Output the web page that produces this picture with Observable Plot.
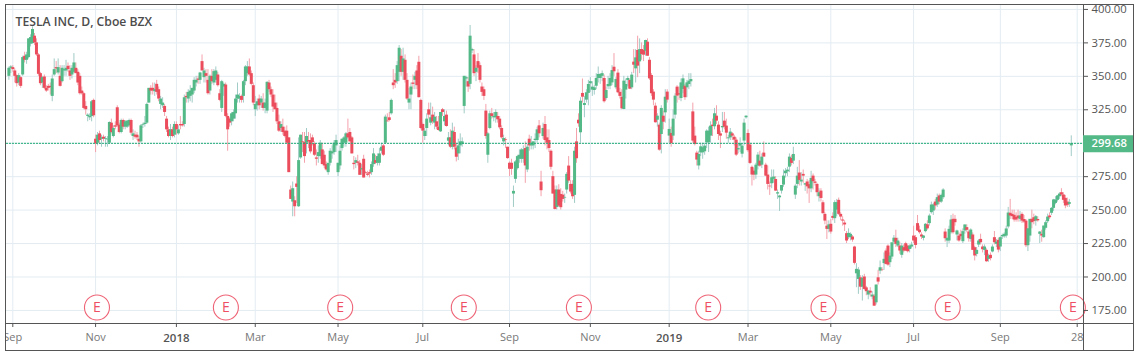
<!DOCTYPE html>
<html><head><meta charset="utf-8">
<style>
html,body{margin:0;padding:0;background:#fff;}
#box{position:absolute;left:6px;top:5px;width:1127px;height:345px;outline:1.4px solid #555;}
#box svg{overflow:hidden;display:block;}
</style>
<script src="https://cdn.jsdelivr.net/npm/d3@7"></script>
<script src="https://cdn.jsdelivr.net/npm/@observablehq/plot@0.6"></script>
</head><body><div id="box"></div>
<script>
// Each row: open, high, low, close. Start index is trading-day position.
const start2017a = 0;
const sep2017 = [[350,357,347,356],[356,358,352,357],[356.5,358,353,355],[354,355.5,345,350],[350.5,351,342,344.5],[345,352,343,350.5],[349,350,341,342.5],[351,365,350,364],[365,368,360,362],[362,368,359,366],[364,378,363,378],[374,381,372,379],[374.5,387,374,385],[380,382,373,375],[375,378,365,366],[366,367,350,351.5],[352,353,343,344.5],[345,350,341,349],[349.5,351,340,341],[341,343,338,339],[342.5,344,339,341],[342.5,345,336,341.5],[335,351,331,348],[351,363,350,355],[356.5,361,352,355.5],[352.5,363,351,356.5],[350,358,342,342.5],[346,358,345,356],[354,358,350,355],[354,362,350,356],[357.5,360,353,355],[354,358,347,350],[351,358,348,356],[353,367,352,360],[356,360,352,352],[353,355,343,345],[350,352,336,337],[339,342,336,337],[337,338,325,326],[327.5,331,321,325],[320,322,316,321],[319,322,317,320],[320,332,316,331],[332,333,319,320.5]];
const start2017b = 44;
const nov2017 = [[303,306,293,299.5],[300,308,298,306],[307,309,299,302],[303,306,297,304],[304.5,306,301,303],[303,305,297,303.5],[302.5,305,297,303],[300,316,299,315.5],[315,318,307,308],[305,313,304,311],[313,316,310,312],[326.5,328,312,313],[313.5,315,307,308],[308,318,307,317],[317,318,310,312],[312,317,310,316],[312,317,311,316.5],[313,318,312,317],[317,318,306,307.5],[305,310,302,307],[306,309,303,304.5],[306,308,302,304],[303,305,297,301],[301,314,300,313],[313.5,315,311,314],[314,320,312,315],[315,330,314,329],[330,341,330,341],[341,343,336,339],[341,345,336,339],[338.5,345,335,340],[344,347,336,338],[340,342,331,333],[329,335,325,333],[328,334,326,330],[327.5,329,320,323],[318,320,308,310],[310,312,304,305],[305,314,302,310],[310,312,304,305],[306,316,304,314],[314,316,306,310],[307,313,306,310],[314,320,310,313],[314,316,312,313]];
const start2018a = 89;
const jan2018 = [[314,336,312,334],[335,338,330,334],[333,340,330,338],[335,343,331,339],[336,341,330,341],[339,349,337,347],[345,350,342,347],[348,350,344,347],[347,353,344,352.5],[361,366,354,354],[349,356,345,354],[352,355,345,350],[347,355,336,337],[339,351,336,350],[350,355,344,346],[345,355,343,353.5],[347,357,345,354],[351,353,342,343],[337,340,331,332],[326,347,323,346],[342,345,335,344],[343.5,345,319,320],[320,322,294,310],[318,319,312,315],[316,323,313,322],[318,325,316,323],[322,336,318,333],[333,345,330,336],[333,337,330,335],[335,336,330,332],[335,347,330,346],[346,358,343,357],[352,361,350,357],[357,363,350,351],[352,354,343,344],[343,345,328,330],[325,335,320,329],[328,333,324,331],[333,336,325,328],[330,335,326,333],[330,337,324,326],[326,333,322,330],[324,346,322,345.5],[345,347,338,340],[340,342,334,336],[336,340,323,327],[330,336,325,325],[326,330,314,316],[316,321,308,309],[311,316,308,314],[312,318,306,308],[309,312,304,305],[309,313,300,300],[304,304,278,278]];
const start2018b = 143;
const mar2018 = [[265,268,258,258],[256,271,245,266],[257,260,245,252.5],[269.5,275,255,267],[252.5,304,252,287],[289,306,288,306],[301,308,293,300.5],[300.5,308,285,290],[300,311,292,305],[302,308,296,301],[302,307,292,293.5],[304,306,298,300.5],[299.5,301,290,291],[289,295,283,288],[290,298,285,293],[290,302,288,300],[295,300,285,284],[291,294,281,283],[284,286,279,280],[278,284,276,285],[285,296,283,294],[292,298,288,293.5],[293,302,291,300],[298,306,293,302],[278,285,275,285],[283,298,280,294],[296,303,294,303],[300,305,297,304],[300,308,297,307],[307,318,303,304],[308,311,301,301],[304,305,292,292],[285,290,280,284],[285,289,281,287],[286,291,283,285],[285,287,276,276],[280,284,276,281],[288,291,274,274],[278,279,277,277.5],[277,279,275,276],[278,280,274,277],[278,286,276,284],[284,296,282,292],[287,291,284,285],[285,292,283,290],[285,296,283,292],[294,300,292,297],[298,299,290,291],[300,321,299,319.5],[316.5,322,316,316],[319,323,316,317],[322,333,321,332],[345,355,340,343],[347,352,341,345],[346,361,344,358],[353,373,346,371],[365,370,350,353],[353,371,347,363],[362,366,345,347],[347,352,332,333],[330,341,325,333],[336,345,325,342],[345,351,340,344],[347,353,340,350],[354,358,340,343],[360.5,365,334,334],[332,333,310,311],[314,315,300,309],[305,311,302,309],[311,322,305,318],[325,330,318,321],[315,330,313,319],[321,327,314,316],[315,323,310,319.5],[316,320,310,312],[312,320,309,309.5],[308.5,323,308,323],[325,326,320,323],[316,325,313,320],[321,324,312,312.5],[301.5,308,298,304],[304,310,296,297],[297,315,295,309],[308,312,295,297],[296.5,300,286,289.5],[292,303,287,298],[298,307,292,301],[299,304,297,301]];
const start2018c = 231;
const aug2018 = [[327.5,350,322,350],[348,350,342,349],[346,349,338,342],[344,388,340,380],[369,371,367,370],[366,370,350,352],[353,358,346,356],[361,367,352,356],[358,360,345,347],[342,345,335,338],[340,342,332,335],[324,329,303,305],[291,308,285,307],[311,324,310,322],[322,326,318,320],[319,323,316,320],[319,325,315,323],[320,323,315,317.5],[318,320,310,311.5],[311,313,303,304],[301,306,298,303.5],[302.5,304,296,302],[297,297,288,288.5],[285,286,275,280.5],[285,288,276,280.5],[262,268,252,264],[273,287,270,286],[281,291,280,290],[288,295,285,291],[288,296,285,295],[288,298,285,295],[296,301,270,283],[280,299,278,297],[303,306,294,298],[298,305,295,300],[298,301,295,301],[302,307,296,303],[302,312,300,310],[313,317,304,307],[271,279,260,264.5],[305,315,303,311],[314,320,298,302],[304,310,295,300],[302,310,293,296],[294,295,280,282],[275,279,262,262],[265,268,250,250.5],[252,268,250,265],[265,269,252,253]];
const start2018d = 280;
const oct2018 = [[261.7,266,250,251.8],[261.2,264,256,258],[259,262,255,259.5],[265,278,262,276.7],[282.9,290,270,271.7],[269.2,272,262,263.5],[269.2,272,258,260],[261,297,255,294],[301,311,285,288.4],[317.2,322,312,314.5],[307.8,334,300,331.4],[337.2,348,330,334.4],[328.2,335,319,329.7],[332.2,340,330,337.7],[337.2,347,328,343.9],[344.4,349,338,346],[339.7,346,335,341.9],[339.4,343,336,341.4],[342.6,352,340,348.4],[348.4,357,345,351.4],[348.4,352,344,351.4],[350,354,346,352],[348.4,351,330,331],[333.4,342,332,339.4],[342.2,350,340,343.9],[342.6,352,340,348.4],[345.1,358,343,354.3],[356.8,367,350,353.4],[341.4,349,340,347.6],[352.4,355,337,337.7],[338,341,333,335],[334.4,340,325,325.7],[325.2,350,325,346.4],[339.7,348,333,343.9],[346.9,350,342,348.4],[346.9,348,340,340.4],[341.4,353,340,350.9],[360.6,370,352,358.3],[355.6,370,345,363.8],[369.3,380,349,357.6],[360.8,378,352,370],[370,375,362,366.3],[369.3,373,361,365.8],[368.8,377,365,376.8],[375.5,378,365,365],[362,364,347,348.1],[350.6,352,335,337],[338.2,340,328,332.2],[327.7,330,315,315.3],[317.2,322,312,320.2],[313.5,315,294,294.8],[306.5,328,292,326],[320.2,324,310,315.7],[322.7,340,315,334.4],[338.2,340,330,332.2],[305.3,318,300,310.3],[307.3,312,297,299.8],[305.3,325,302,318],[321,337,318,335.2],[341.9,343,330,335.2],[337,342,332,336],[333.4,348,331,345.1],[340.2,351,337,348.1],[342.6,344,332,334],[341.4,347,334,345.1],[343.9,352,340,346.4],[345.9,352,342,347.6]];
const start2019a = 347;
const jan2019 = [[323.4,330,300,301.6],[305.3,312,298,299],[292.6,294,283,287.4],[283,294,280,291.6],[292.8,300,290,297.3],[292.8,300,288,296.6],[293.6,300,291,297.8],[300.3,310,296,309],[300.3,312,293,309],[305.3,316,300,312.8],[313.5,318,305,312.5],[312.3,326,310,322],[320.2,328,314,316.5],[313.5,316,302,306.5],[307,309,296,305.3],[311.5,323,308,312.5],[316.5,323,310,312],[312.8,318,303,307.5],[303.3,306,300,304],[304,311,302,308.3],[307,308,302,305.3],[304.5,306,298,302.3],[302.3,304,290,291.1],[295,299,292,296],[297.8,304,293,299.8],[291.8,299,289,297.8],[301.6,318,298,315],[319,320.5,318,320.2],[307.3,310,293,294.4],[298.6,300,284,284.9],[282,283,268,276.2],[279.1,281,272,276.2],[276.2,285,273,283.6],[282.9,293,280,291.1],[286.6,294,282,282.9],[283.6,292,281,289.6],[292.6,301,290,289.6],[283.6,285,275,275.4],[276.2,283,265,269.2],[267.9,271,261,267.4],[269.7,280,266,274.2],[273,280,270,274.7],[272.9,275,264,264.2],[262,265,258,263],[259.2,261,249,260.5],[264.2,268,262,268.4],[268.7,280,267,275.4],[277.2,281,274,279.1],[278.6,282,275,279.9],[282.1,292,278,289.6],[288.6,291,283,284.9],[286.6,297,284,291.6]];
const start2019b = 399;
const apr2019 = [[261.2,269,258,267.9],[269.2,282,266,275.4],[277.7,287,268,272.2],[271,278,268,272.4],[276.7,280,270,275.4],[268.7,270,264,269.7],[271,273,262,267.4],[269,272,255,265.9],[265.9,279,263,273.7],[275.4,277,265,271.2],[271,273,268,270],[269.2,270,260,263],[260,266,256,263],[264.2,266,256,258.7],[255.5,257,247,247.3],[246.8,248,239,241.8]];
const start2019c = 415;
const may2019 = [[238,242,228,235.6],[235.6,242,233,239],[239.4,243,232,233.6],[245.3,248,242,243.8],[243.6,257,240,255.6],[250,258,245,255.6],[257.3,259,246,246.8],[246.8,248,242,244.8],[242.6,245,238,241.8],[240.3,242,234,238.9],[232.4,234,225,226.9],[229.4,236,228,232.6],[229.4,233,227,231.9],[229.9,231,226,227.6],[222.4,223,209,210.2],[202.4,210,192,205.7],[198.2,207,187,205.2],[199.4,201,190,192.4],[192.4,201,182,199],[200,202,190,190.7],[191.9,193,186,189],[186.5,190,183,189.4],[189.4,192,185,188],[185,189,183,186.5],[185.7,187,178,178.2],[180.7,194,179,194],[199.4,205,194,196.2],[204.4,212,202,206.9],[205.2,207,204,204.9],[210,218,205,213.2],[219.4,221,209,209.4],[223.1,224,208,208.9],[210.7,218,207,215.6],[214.9,225,213,225.6],[226,231,224,229],[228.9,235,222,224.4],[223.1,229,222,226.9],[223.1,226,217,219.4],[216.2,225,214,223.1],[221.9,224,218,219.4],[224.9,226,219,219.4],[223.1,224,218,218.9],[220.6,224,218,223.1],[222.4,226,221,223.9],[230.6,238,225,226.9],[229.4,231,221,223.6],[239.9,246,234,234.4],[235.1,238,232,233.1],[231.4,233,228,229.9],[228.9,231,227,230.6],[233.9,240,233,239.4],[239,242,235,236],[239.9,247,238,245.6],[248.1,256,247,253.8],[249.3,255,246,253.8],[256,258,250,253.1],[253.8,262,252,259.3],[260.6,262,254,256],[256,262,255,261],[259.3,266,258,265]];
const start2019d = 475;
const aug2019 = [[233.6,236,226,228.6],[226.9,229,222,228.9],[226.9,238,225,235.6],[233.1,246,232,242.6],[243.1,247,232,233.1],[243.1,246,238,240.6],[231.4,235,227,234.4],[230.6,233,226,226.9],[231.9,235,228,230.1],[226.4,236,225,233.9],[234.4,239,232,238.9],[236.9,239,233,234.9],[233.6,235,226,228.6],[228.1,236,226,235.1],[231.4,233,220,219.9],[221.9,223,212,215.7],[216.9,222,215,219.9],[223.9,228,222,226.9],[228.1,232,224,225.6],[222.4,224,218,220.4],[219.9,224,216,222.4],[219.9,221,211,211.4],[213.2,217,211,215.7],[216.2,218,212,213.7],[218.7,224,218,222.4],[229.4,234,224,225.6],[224.4,228,222,226.1],[227.4,229,218,220.1],[222.4,230,219,229.4],[230,232,228,231],[230.1,233,229,231.9],[230.6,238,229,235.9],[237.4,252,236,247.8],[247.6,258,243,245.6],[246.8,250,243,245.1],[246.1,250,241,242.6],[244.6,248,241,242.6],[245.6,250,241,243.6],[243.1,249,241,245.6],[246.8,248,240,241.8],[243,246,240,241],[241.8,243,222,223.4],[223.4,236,219,236],[230.6,243,226,243.1],[243.1,250,236,240.6],[244.3,247,239,241.4],[241.8,246,238,245.1],[243,245,241,242],[231.9,234,225,233.6],[231.9,235,226,230.6],[229.4,238,229,238.1],[236.4,242,235,240.6],[241.3,247,240,244.8],[245.6,248,243,244.3],[247.6,252,246,251.3],[251.3,258,249,257.6],[255,260,254,257.5],[257.3,261,256,260.6],[260,263,258,262],[263,266,260,261.3],[261.3,263,255,257.3],[258.8,261,251,253.1],[256,259,252,253.6],[254.3,258,252,255.6],[298,305.5,290,299.68]];

const priceTicks = [175,200,225,250,275,300,325,350,375,400];
const lastPrice = 299.68;
const monthTicks = [2,44,125,167,210,254,295,375,417,459,503,542];
const monthLabels = ["Sep","Nov","Mar","May","Jul","Sep","Nov","Mar","May","Jul","Sep","28"];
const yearTicks = [85,335];
const yearLabels = ["2018","2019"];
const earnings = [44.7,110.1,168.1,230.8,289.2,354.8,413.3,476.3,539.8];
const titleText = "TESLA INC, D, Cboe BZX";

const pieces = [[start2017a,sep2017],[start2017b,nov2017],[start2018a,jan2018],[start2018b,mar2018],[start2018c,aug2018],[start2018d,oct2018],[start2019a,jan2019],[start2019b,apr2019],[start2019c,may2019],[start2019d,aug2019]];
const candles = pieces.flatMap(([s,rows]) => rows.map((r,k)=>({i:s+k,open:r[0],high:r[1],low:r[2],close:r[3]})));
const UP="#53b987", DOWN="#eb4d5c", UPW="#a0cbc6", DOWNW="#f4a1ab", GRID="#e3ecf2", LINE="#555", FONT="Open Sans";
const xMax=545.2, yMin=165.24, yMax=402.94;
const isUp=d=>d.close>=d.open;
const ticksAll=[...monthTicks,...yearTicks];

const chart = Plot.plot({
  width:1127,height:345,marginLeft:0,marginRight:50,marginTop:0,marginBottom:27,
  style:{fontFamily:FONT,background:"transparent",overflow:"hidden"},
  x:{type:"linear",domain:[-1.2,xMax]},
  y:{type:"linear",domain:[yMin,yMax]},
  marks:[
    Plot.gridX(ticksAll,{stroke:GRID,strokeOpacity:1}),
    Plot.gridY(priceTicks,{stroke:GRID,strokeOpacity:1}),
    Plot.ruleX(candles,{x:"i",y1:"low",y2:"high",stroke:d=>isUp(d)?UPW:DOWNW,strokeWidth:1}),
    Plot.ruleX(candles,{x:"i",y1:"open",y2:"close",stroke:d=>isUp(d)?UP:DOWN,strokeWidth:3}),
    Plot.ruleY([lastPrice],{stroke:"#22ab76",strokeWidth:1,strokeDasharray:"2 1",dy:-0.3}),
    Plot.dot(earnings,{x:d=>d,frameAnchor:"bottom",dy:-16,r:12.5,fill:"white",stroke:"#ee6476",strokeWidth:1.1}),
    Plot.text(earnings,{x:d=>d,frameAnchor:"bottom",dy:-16,lineAnchor:"middle",text:()=>"E",fill:"#ee4f63",fontSize:14}),
    Plot.text([titleText],{frameAnchor:"top-left",dx:9,dy:17,lineAnchor:"middle",text:d=>d,fill:"#4c4c4c",fontSize:12.2,fontWeight:600}),
    Plot.axisY({anchor:"right",ticks:priceTicks,tickFormat:d=>d.toFixed(2),tickSize:4,tickPadding:4,label:null,fontSize:11.3,fill:"#555",stroke:LINE}),
    Plot.axisX({ticks:monthTicks,tickFormat:d=>monthLabels[monthTicks.indexOf(d)],tickSize:4,tickPadding:6,label:null,fontSize:11,fill:"#777",stroke:LINE}),
    Plot.axisX({ticks:yearTicks,tickFormat:d=>yearLabels[yearTicks.indexOf(d)],tickSize:4,tickPadding:6,label:null,fontSize:11.5,fontWeight:600,fill:"#555",stroke:LINE}),
    Plot.ruleX([xMax],{stroke:LINE,insetBottom:-27}),
    Plot.ruleY([yMin],{stroke:LINE,insetRight:-50}),
    Plot.ruleY([lastPrice],{x1:xMax,x2:xMax,stroke:UP,strokeWidth:17,insetRight:-50}),
    Plot.text([lastPrice],{x:xMax,y:d=>d,dx:8,textAnchor:"start",text:d=>d.toFixed(2),fill:"white",fontSize:11.3,fontWeight:600})
  ]
});
document.getElementById("box").appendChild(chart);
</script></body></html>
